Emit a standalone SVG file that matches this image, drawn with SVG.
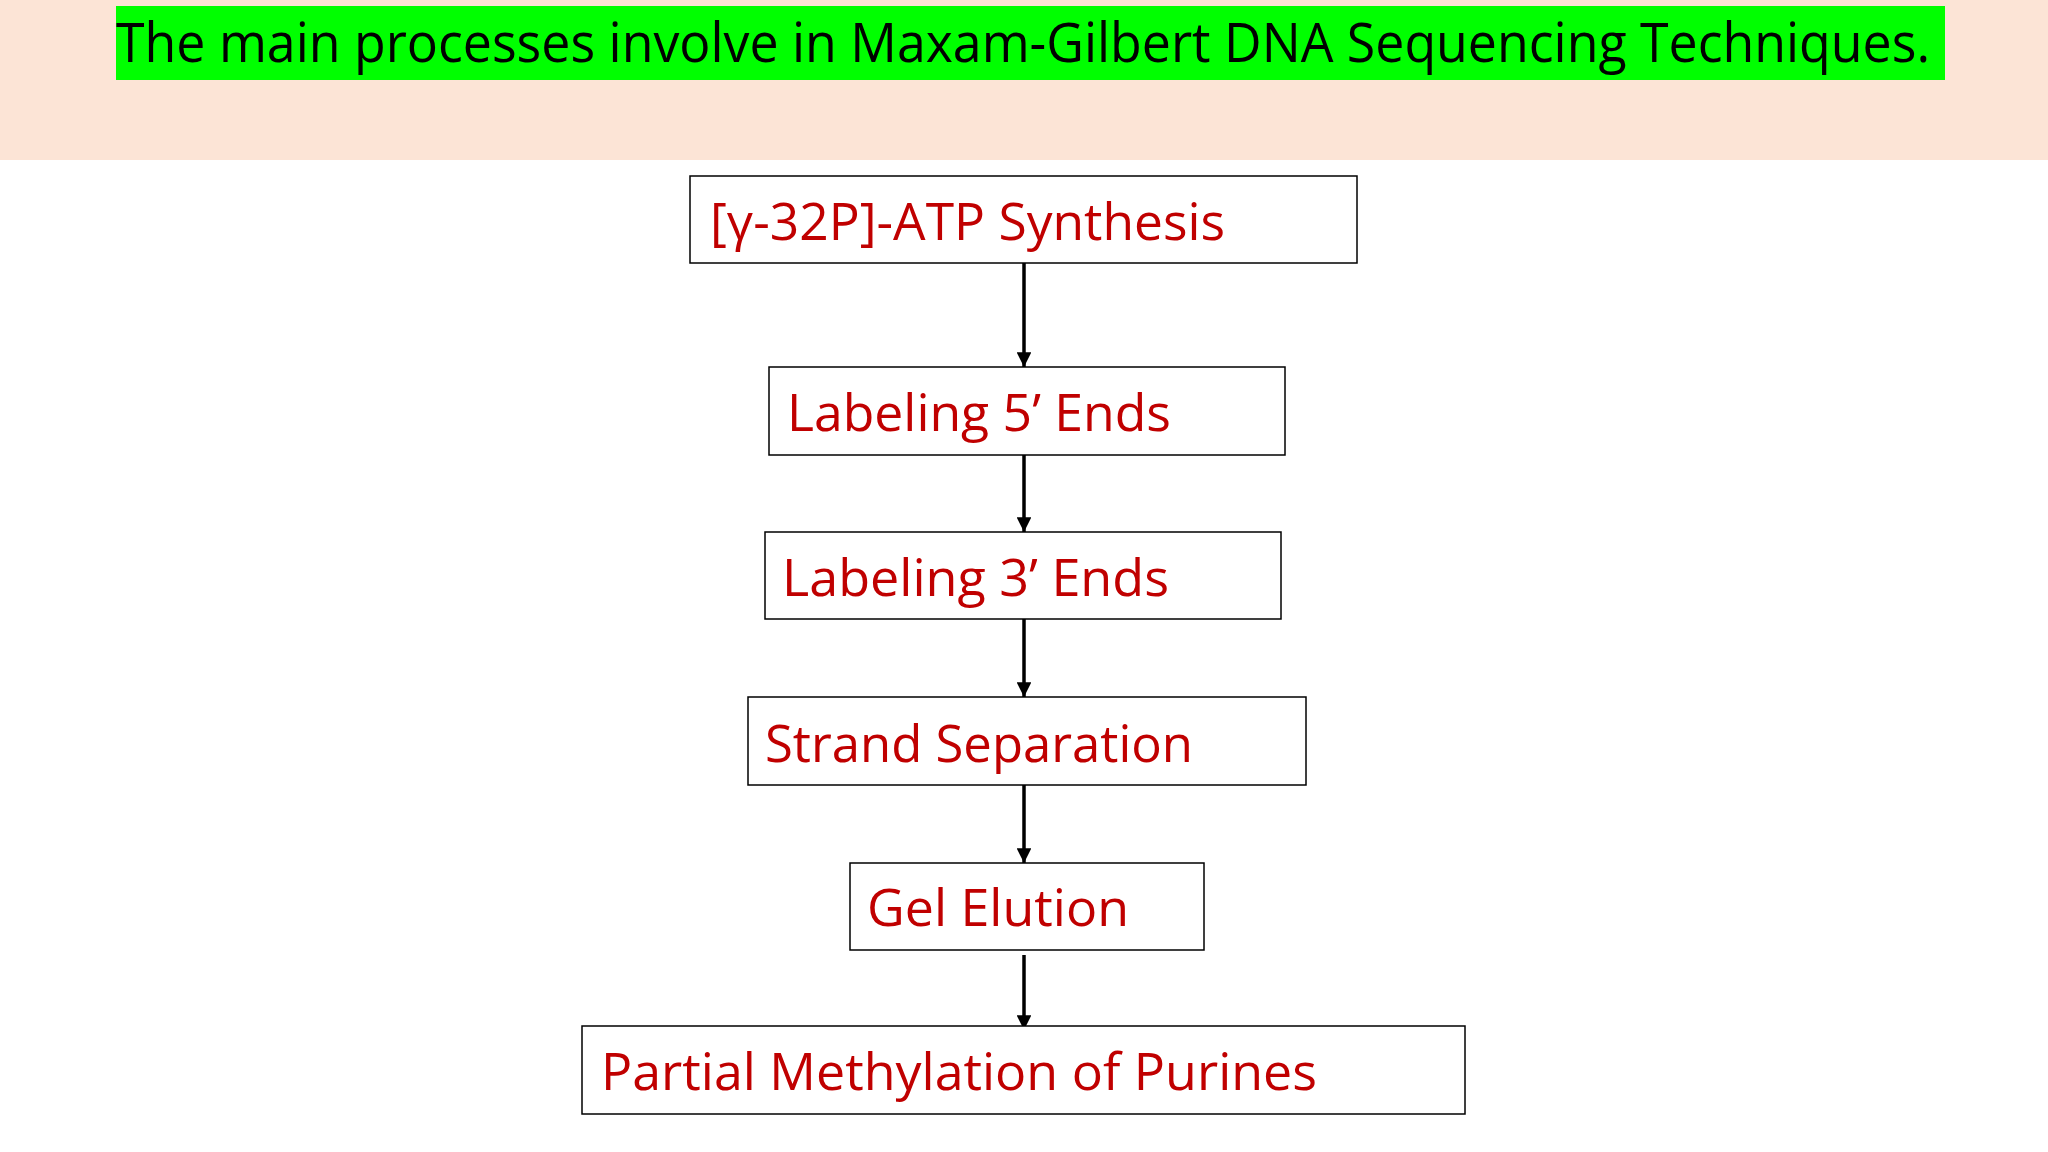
<svg xmlns="http://www.w3.org/2000/svg" width="2048" height="1152" viewBox="0 0 2048 1152">
  <defs>
    <style>
      .box { fill: #FFFFFF; stroke: #000000; stroke-width: 1.5; }
      .lbl { font-family: "Open Sans", "Noto Sans", "Liberation Sans", sans-serif; font-size: 52px; fill: #C00000; }
      .title { font-family: "Open Sans", "Noto Sans", "Liberation Sans", sans-serif; font-size: 54px; fill: #000000; }
      .conn { stroke: #000000; stroke-width: 3.5; fill: none; marker-end: url(#arrow); }
    </style>
    <marker id="arrow" viewBox="0 0 10 10" refX="10" refY="5" markerWidth="4.2" markerHeight="4.2" orient="auto" markerUnits="strokeWidth">
      <path d="M0,0 L10,5 L0,10 Z" fill="#000000"/>
    </marker>
  </defs>
  <rect x="0" y="0" width="2048" height="1152" fill="#FFFFFF"/>
  <g id="header">
    <rect x="0" y="0" width="2048" height="160" fill="#FCE4D6"/>
    <rect x="116" y="6" width="1829" height="74" fill="#00FF00"/>
    <text class="title" x="116" y="62" textLength="1814" lengthAdjust="spacingAndGlyphs">The main processes involve in Maxam-Gilbert DNA Sequencing Techniques.</text>
  </g>
  <g id="connectors">
    <line class="conn" x1="1024" y1="263" x2="1024" y2="367"/>
    <line class="conn" x1="1024" y1="455" x2="1024" y2="532"/>
    <line class="conn" x1="1024" y1="619" x2="1024" y2="697"/>
    <line class="conn" x1="1024" y1="785" x2="1024" y2="863"/>
    <line class="conn" x1="1024" y1="955" x2="1024" y2="1030"/>
  </g>
  <g id="node-atp">
    <rect class="box" x="690" y="176" width="667" height="87"/>
    <text class="lbl" x="710" y="240" textLength="515" lengthAdjust="spacingAndGlyphs">[γ-32P]-ATP Synthesis</text>
  </g>
  <g id="node-label5">
    <rect class="box" x="769" y="367" width="516" height="88"/>
    <text class="lbl" x="787" y="431" textLength="384" lengthAdjust="spacingAndGlyphs">Labeling 5’ Ends</text>
  </g>
  <g id="node-label3">
    <rect class="box" x="765" y="532" width="516" height="87"/>
    <text class="lbl" x="782" y="596" textLength="387" lengthAdjust="spacingAndGlyphs">Labeling 3’ Ends</text>
  </g>
  <g id="node-strand">
    <rect class="box" x="748" y="697" width="558" height="88"/>
    <text class="lbl" x="765" y="762" textLength="428" lengthAdjust="spacingAndGlyphs">Strand Separation</text>
  </g>
  <g id="node-gel">
    <rect class="box" x="850" y="863" width="354" height="87"/>
    <text class="lbl" x="867" y="926" textLength="262" lengthAdjust="spacingAndGlyphs">Gel Elution</text>
  </g>
  <g id="node-methyl">
    <rect class="box" x="582" y="1026" width="883" height="88"/>
    <text class="lbl" x="601" y="1090" textLength="716" lengthAdjust="spacingAndGlyphs">Partial Methylation of Purines</text>
  </g>
</svg>
